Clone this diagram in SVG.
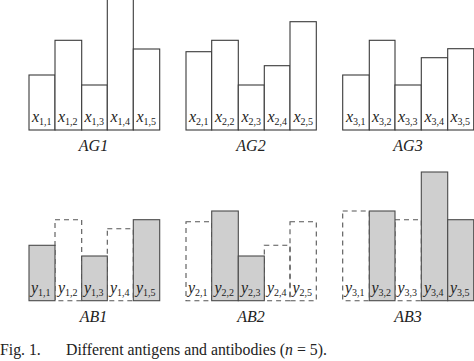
<svg xmlns="http://www.w3.org/2000/svg" width="474" height="361" viewBox="0 0 474 361">
<style>
.bar{fill:#fff;stroke:#3a3a3a;stroke-width:1.1}
.fil{fill:#cfcfcf;stroke:#4a4a4a;stroke-width:1.1}
.dash{fill:none;stroke:#555;stroke-width:1.1;stroke-dasharray:5,4}
.lb{font-family:"Liberation Serif","Times New Roman","DejaVu Serif",serif;font-style:italic;font-size:16px;fill:#222}
.sb{font-style:normal;font-size:10px}
.ttl{font-family:"Liberation Serif","Times New Roman","DejaVu Serif",serif;font-style:italic;font-size:16px;fill:#222;text-anchor:middle}
.cap{font-family:"Liberation Serif","Times New Roman","DejaVu Serif",serif;font-size:15.8px;fill:#222}
</style>
<rect width="474" height="361" fill="#fff"/>
<g id="AG1">
<rect class="bar" x="29" y="75" width="26" height="55"/>
<rect class="bar" x="55" y="40.3" width="26.7" height="89.7"/>
<rect class="bar" x="81.7" y="85" width="25.6" height="45"/>
<rect class="bar" x="107.3" y="-3" width="26" height="133"/>
<rect class="bar" x="133.3" y="49" width="26.4" height="81"/>
<text class="lb" x="32" y="122">x<tspan class="sb" dy="3">1,1</tspan></text>
<text class="lb" x="58" y="122">x<tspan class="sb" dy="3">1,2</tspan></text>
<text class="lb" x="84.5" y="122">x<tspan class="sb" dy="3">1,3</tspan></text>
<text class="lb" x="110.5" y="122">x<tspan class="sb" dy="3">1,4</tspan></text>
<text class="lb" x="136.5" y="122">x<tspan class="sb" dy="3">1,5</tspan></text>
<text class="ttl" x="93.5" y="151">AG1</text>
</g>
<g id="AG2">
<rect class="bar" x="186" y="51.7" width="25.7" height="78.3"/>
<rect class="bar" x="211.7" y="40.3" width="26.6" height="89.7"/>
<rect class="bar" x="238.3" y="85" width="26" height="45"/>
<rect class="bar" x="264.3" y="65.7" width="25.7" height="64.3"/>
<rect class="bar" x="290" y="21.7" width="26.3" height="108.3"/>
<text class="lb" x="189" y="122">x<tspan class="sb" dy="3">2,1</tspan></text>
<text class="lb" x="215" y="122">x<tspan class="sb" dy="3">2,2</tspan></text>
<text class="lb" x="241.5" y="122">x<tspan class="sb" dy="3">2,3</tspan></text>
<text class="lb" x="267.5" y="122">x<tspan class="sb" dy="3">2,4</tspan></text>
<text class="lb" x="293.5" y="122">x<tspan class="sb" dy="3">2,5</tspan></text>
<text class="ttl" x="251" y="151">AG2</text>
</g>
<g id="AG3">
<rect class="bar" x="342.7" y="75" width="26.6" height="55"/>
<rect class="bar" x="369.3" y="40.3" width="25.7" height="89.7"/>
<rect class="bar" x="395" y="85" width="26.3" height="45"/>
<rect class="bar" x="421.3" y="57.7" width="26.4" height="72.3"/>
<rect class="bar" x="447.7" y="48.7" width="26" height="81.3"/>
<text class="lb" x="346" y="122">x<tspan class="sb" dy="3">3,1</tspan></text>
<text class="lb" x="372" y="122">x<tspan class="sb" dy="3">3,2</tspan></text>
<text class="lb" x="398" y="122">x<tspan class="sb" dy="3">3,3</tspan></text>
<text class="lb" x="424.5" y="122">x<tspan class="sb" dy="3">3,4</tspan></text>
<text class="lb" x="450.5" y="122">x<tspan class="sb" dy="3">3,5</tspan></text>
<text class="ttl" x="408" y="151">AG3</text>
</g>
<g id="AB1">
<rect class="dash" x="55" y="219.7" width="26.7" height="81"/>
<rect class="dash" x="107.3" y="228.7" width="26" height="72"/>
<rect class="fil" x="29" y="245.3" width="26" height="55.4"/>
<rect class="fil" x="81.7" y="256" width="25.6" height="44.7"/>
<rect class="fil" x="133.3" y="219.7" width="26.4" height="81"/>
<text class="lb" x="31" y="293">y<tspan class="sb" dy="3">1,1</tspan></text>
<text class="lb" x="58" y="293">y<tspan class="sb" dy="3">1,2</tspan></text>
<text class="lb" x="84" y="293">y<tspan class="sb" dy="3">1,3</tspan></text>
<text class="lb" x="110" y="293">y<tspan class="sb" dy="3">1,4</tspan></text>
<text class="lb" x="136" y="293">y<tspan class="sb" dy="3">1,5</tspan></text>
<text class="ttl" x="93.5" y="322">AB1</text>
</g>
<g id="AB2">
<rect class="dash" x="186" y="221.7" width="25.7" height="79"/>
<rect class="dash" x="264.3" y="245.3" width="25.7" height="55.4"/>
<rect class="dash" x="290" y="221.7" width="26.3" height="79"/>
<rect class="fil" x="211.7" y="211" width="26.6" height="89.7"/>
<rect class="fil" x="238.3" y="256" width="26" height="44.7"/>
<text class="lb" x="188" y="293">y<tspan class="sb" dy="3">2,1</tspan></text>
<text class="lb" x="214.5" y="293">y<tspan class="sb" dy="3">2,2</tspan></text>
<text class="lb" x="241" y="293">y<tspan class="sb" dy="3">2,3</tspan></text>
<text class="lb" x="267" y="293">y<tspan class="sb" dy="3">2,4</tspan></text>
<text class="lb" x="292.5" y="293">y<tspan class="sb" dy="3">2,5</tspan></text>
<text class="ttl" x="251" y="322">AB2</text>
</g>
<g id="AB3">
<rect class="dash" x="342.7" y="211" width="26.6" height="89.7"/>
<rect class="dash" x="395" y="219.7" width="26.3" height="81"/>
<rect class="fil" x="369.3" y="211" width="25.7" height="89.7"/>
<rect class="fil" x="421.3" y="172" width="26.4" height="128.7"/>
<rect class="fil" x="447.7" y="219.7" width="26" height="81"/>
<text class="lb" x="345" y="293">y<tspan class="sb" dy="3">3,1</tspan></text>
<text class="lb" x="371.5" y="293">y<tspan class="sb" dy="3">3,2</tspan></text>
<text class="lb" x="397.5" y="293">y<tspan class="sb" dy="3">3,3</tspan></text>
<text class="lb" x="424" y="293">y<tspan class="sb" dy="3">3,4</tspan></text>
<text class="lb" x="450" y="293">y<tspan class="sb" dy="3">3,5</tspan></text>
<text class="ttl" x="408" y="322">AB3</text>
</g>
<g id="connectors"/>
<text class="cap" x="0" y="355">Fig. 1.<tspan x="66">Different antigens and antibodies (</tspan><tspan font-style="italic">n</tspan> = 5).</text>
</svg>
